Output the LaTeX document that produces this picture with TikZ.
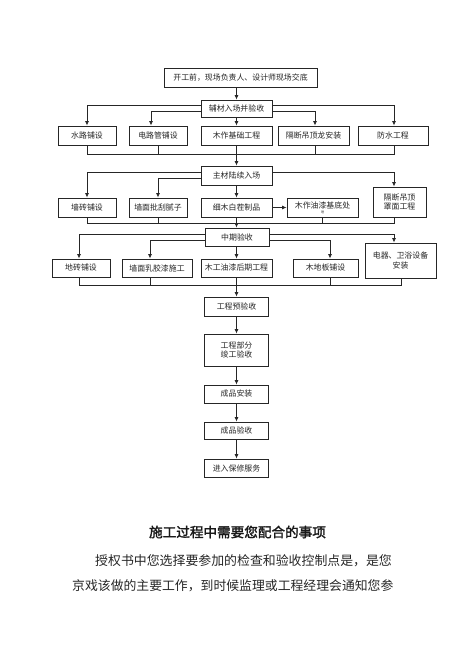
\documentclass[tikz,border=0pt]{standalone}
\usepackage{fontspec}
\setmainfont{Noto Sans CJK SC}[AutoFakeBold=2]
\usetikzlibrary{arrows.meta}
\tikzset{
  box/.style={draw=black!85, line width=0.85pt, fill=white, inner sep=1pt, align=center,
    font=\fontsize{7.9}{9.4}\selectfont, text=black!85},
  link/.style={draw=black!85, line width=0.8pt},
  arr/.style={link, -{Latex[length=4.5pt,width=4pt]}},
}
\begin{document}
\begin{tikzpicture}[x=1pt,y=-1pt]
\useasboundingbox (0,0) rectangle (474,670);
% nodes
\node[box, minimum width=153pt, minimum height=19pt] (n0) at (240.5,77.5) {开工前，现场负责人、设计师现场交底};
\node[box, minimum width=71pt, minimum height=17pt] (n1) at (236.5,108.5) {辅材入场并验收};
% row 1
\node[box, minimum width=58pt, minimum height=19pt] (a1) at (87,135.5) {水路铺设};
\node[box, minimum width=58pt, minimum height=19pt] (a2) at (158,135.5) {电路管铺设};
\node[box, minimum width=71pt, minimum height=19pt] (a3) at (236.5,135.5) {木作基础工程};
\node[box, minimum width=71pt, minimum height=19pt] (a4) at (313.5,135.5) {隔断吊顶龙安装};
\node[box, minimum width=70pt, minimum height=19pt] (a5) at (393,135.5) {防水工程};
\coordinate (k1) at (236.5,154);
\node[box, minimum width=71pt, minimum height=19pt] (n2) at (236.5,175.5) {主材陆续入场};
% row 2
\node[box, minimum width=58pt, minimum height=19pt] (b1) at (87,207.5) {墙砖铺设};
\node[box, minimum width=58pt, minimum height=19pt] (b2) at (158,207.5) {墙面批刮腻子};
\node[box, minimum width=71pt, minimum height=19pt] (b3) at (236.5,207.5) {细木白茬制品};
\node[box, minimum width=71pt, minimum height=19pt, inner sep=0pt] (b4) at (322.5,207.5) {木作油漆基底处\\[-4pt]{\fontsize{3}{3}\selectfont 理}};
\node[box, minimum width=53pt, minimum height=30pt] (b5) at (399.5,202) {隔断吊顶\\罩面工程};
\coordinate (k2) at (236.5,223);
\node[box, minimum width=64pt, minimum height=18pt] (n3) at (237,237) {中期验收};
% row 3
\node[box, minimum width=58pt, minimum height=18pt] (c1) at (81,268) {地砖铺设};
\node[box, minimum width=70pt, minimum height=18pt] (c2) at (157,268) {墙面乳胶漆施工};
\node[box, minimum width=71pt, minimum height=18pt] (c3) at (236.5,268) {木工油漆后期工程};
\node[box, minimum width=65pt, minimum height=18pt] (c4) at (325.5,268) {木地板铺设};
\node[box, minimum width=71pt, minimum height=35pt] (c5) at (400.5,260.5) {电器、卫浴设备\\安装};
\coordinate (k3) at (236.5,285);
% lower chain
\node[box, minimum width=64pt, minimum height=19pt] (n4) at (236.5,306.5) {工程预验收};
\node[box, minimum width=64pt, minimum height=32pt] (n5) at (236.5,350) {工程部分\\竣工验收};
\node[box, minimum width=64pt, minimum height=18pt] (n6) at (236.5,394) {成品安装};
\node[box, minimum width=64pt, minimum height=17pt] (n7) at (236.5,430.5) {成品验收};
\node[box, minimum width=64pt, minimum height=18pt] (n8) at (236.5,468) {进入保修服务};
% text below
\node[font=\fontsize{13.6}{16}\selectfont\bfseries, text=black!90] (t0) at (237.5,532) {施工过程中需要您配合的事项};
\node[anchor=west, inner sep=0pt, font=\fontsize{12.9}{15}\selectfont, text=black!85] (t1) at (95,561) {授权书中您选择要参加的检查和验收控制点是，是您};
\node[anchor=west, inner sep=0pt, font=\fontsize{12.85}{15}\selectfont, text=black!85] (t2) at (72,586) {京戏该做的主要工作，到时候监理或工程经理会通知您参};
% connectors top
\draw[arr] (n1.north |- n0.south) -- (n1.north);
\draw[arr] ([yshift=3pt]n1.west) -| (a1.north);
\draw[arr] ([yshift=-3pt]n1.west) -| ([xshift=-7pt]a2.north);
\draw[arr] (n1.south) -- (a3.north);
\draw[arr] ([yshift=-3pt]n1.east) -| ([xshift=1.5pt]a4.north);
\draw[arr] ([yshift=3pt]n1.east) -| ([xshift=1pt]a5.north);
\draw[link] (a1.south) -- (a1.south |- k1) -- ([xshift=1pt]a5.south |- k1) -- ([xshift=1pt]a5.south);
\draw[link] (a2.south) -- (a2.south |- k1);
\draw[link] ([xshift=1.5pt]a4.south) -- ([xshift=1.5pt]a4.south |- k1);
\draw[arr] (a3.south) -- (n2.north);
% row 2 connectors
\draw[arr] ([yshift=3pt]n2.west) -| (b1.north);
\draw[arr] ([yshift=-3pt]n2.west) -| (b2.north);
\draw[arr] (n2.south) -- (b3.north);
\draw[arr] ([yshift=3pt]n2.east) -| ([xshift=-5.5pt]b5.north);
\draw[arr] (b3.east) -- (b4.west);
\draw[link] (b1.south) -- (b1.south |- k2) -- ([xshift=-5.5pt]b5.south |- k2) -- ([xshift=-5.5pt]b5.south);
\draw[link] (b2.south) -- (b2.south |- k2);
\draw[link] (b4.south) -- (b4.south |- k2);
\draw[arr] (b3.south) -- (n3.north -| b3.south);
% row 3 connectors
\draw[arr] ([yshift=3pt]n3.west) -| ([xshift=-2pt]c1.north);
\draw[arr] ([yshift=-3pt]n3.west) -| ([xshift=-7pt]c2.north);
\draw[arr] (n3.south -| c3.north) -- (c3.north);
\draw[arr] ([yshift=-3pt]n3.east) -| ([xshift=4.5pt]c4.north);
\draw[arr] ([yshift=3pt]n3.east) -| ([xshift=-6.5pt]c5.north);
\draw[link] ([xshift=-2pt]c1.south) -- ([xshift=-2pt]c1.south |- k3) -- ([xshift=0.5pt]c5.south |- k3) -- ([xshift=0.5pt]c5.south);
\draw[link] ([xshift=-7pt]c2.south) -- ([xshift=-7pt]c2.south |- k3);
\draw[link] ([xshift=4.5pt]c4.south) -- ([xshift=4.5pt]c4.south |- k3);
\draw[arr] (c3.south) -- (n4.north);
\draw[arr] (n4.south) -- (n5.north);
\draw[arr] (n5.south) -- (n6.north);
\draw[arr] (n6.south) -- (n7.north);
\draw[arr] (n7.south) -- (n8.north);
\end{tikzpicture}
\end{document}
